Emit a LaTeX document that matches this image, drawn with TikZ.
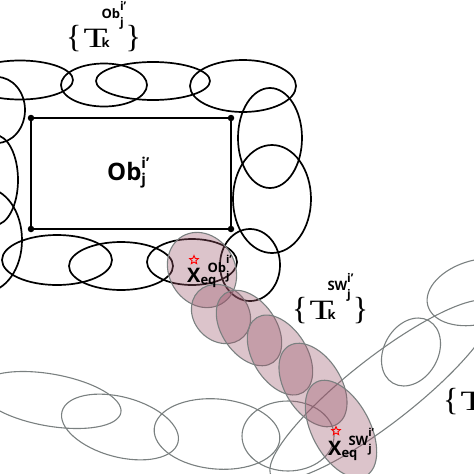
\documentclass[tikz,border=0pt]{standalone}
\usepackage{fontspec}
\setmainfont{Liberation Serif}
\setsansfont{Open Sans}
\usepackage{graphicx}
\usetikzlibrary{shapes.geometric}
\definecolor{cellpink}{RGB}{155,86,106}
\definecolor{cellgrey}{RGB}{122,128,128}
% bold sans script of a given size
\newcommand{\sfb}[2]{{\fontsize{#1}{#1}\selectfont\sffamily\bfseries #2}}
% set of cells {T_k^{#1_j^{i'}}}
\newcommand{\tsetlab}[1]{{\fontsize{32}{32}\selectfont\{}\hspace{2pt}%
  \scalebox{1.4}[1]{\fontsize{28}{28}\selectfont T}\hspace{-6pt}%
  \rlap{\sfb{13}{k}}\raisebox{29pt}{\sfb{13}{#1}}%
  \rlap{\raisebox{37pt}{\sfb{12}{i’}}}\raisebox{21pt}{\sfb{12}{j}}\hspace{2pt}%
  {\fontsize{32}{32}\selectfont\}}}
% equilibrium point X_eq^{#1_j^{i'}}
\newcommand{\xeqlab}[1]{\sfb{20}{X}\rlap{\raisebox{-2pt}{\sfb{13}{eq}}}\hspace{7pt}%
  \raisebox{10pt}{\sfb{13}{#1}}\rlap{\raisebox{19pt}{\sfb{11}{i’}}}\raisebox{3pt}{\sfb{11}{j}}}
\begin{document}
\begin{tikzpicture}[x=1pt,y=-1pt,
    blackell/.style={line width=1.7pt},
    greyell/.style={draw=cellgrey,line width=1.1pt},
    pinkell/.style={draw=cellgrey,line width=1.1pt,fill=cellpink,fill opacity=.35},
    corner/.style={circle,fill,inner sep=0pt,minimum size=6.5pt},
    eqstar/.style={star,star points=5,star point ratio=2.2,draw=red,line width=.9pt,inner sep=0pt,minimum size=9pt},
    lab/.style={anchor=base west,inner sep=0pt}]
  % background
  \useasboundingbox (0,0) rectangle (474,474);
  \clip (0,0) rectangle (474,474);
  % cells round the obstacle
  \foreach \cx/\cy/\rx/\ry in {20/80/53/19.5,104/85/43/21.5,153/81/57/19,243/86/53/26,
      -3/110/28/33,-5/180/23/45,-15/240/37/52,
      57/260/55/25,121/266/52/24,192/262/45/23,
      270/138/32/50,272/199/39/54,250/265/30/36}
    \draw[blackell] (\cx,\cy) ellipse [x radius=\rx, y radius=\ry];
  % obstacle
  \coordinate (nw) at (31,118);
  \coordinate (ne) at (231,118);
  \coordinate (se) at (231,229);
  \coordinate (sw) at (31,229);
  \draw[line width=2.2pt] (nw) -- (ne) -- (se) -- (sw) -- cycle;
  \foreach \c in {nw,ne,se,sw} \node[corner] (dot-\c) at (\c) {};
  % cells of the next obstacle
  \foreach \cx/\cy/\a/\b/\r in {50/400/72/26/-10,120/427/60/30/-15,217/434/63/35/-5,
      288/436/46/35/0,382/390/140/33/38,411/352/36/27/60,478/292/52/32/15}
    \draw[greyell,shift={(\cx,\cy)},rotate=\r] (0,0) ellipse [x radius=\a, y radius=\b];
  % switching cells
  \foreach \cx/\cy/\a/\b/\r in {202/270/39/33/-60,221/314/32/27/-45,249/328/42/27/-55,
      280/355/44/27/-58,313/385/46/28/-58,341/429/53/29/-62}
    \draw[pinkell,shift={(\cx,\cy)},rotate=\r] (0,0) ellipse [x radius=\a, y radius=\b];
  % labels
  \node[lab] (tob) at (66,47) {\tsetlab{Ob}};
  \node[lab] (tsw) at (292,319) {\tsetlab{SW}};
  \node[lab] (tnext) at (443,410) {{\fontsize{32}{32}\selectfont\{}\hspace{2pt}\scalebox{1.4}[1]{\fontsize{28}{28}\selectfont T}};
  \node[lab] (oblab) at (107,180) {\sfb{24}{Ob}\rlap{\raisebox{12pt}{\sfb{15}{i’}}}\raisebox{-4pt}{\sfb{15}{j}}};
  \node[eqstar] (sob) at (194,260) {};
  \node[eqstar] (ssw) at (336,431) {};
  \node[lab] (xob) at (187,282) {\xeqlab{Ob}};
  \node[lab] (xsw) at (328,455) {\xeqlab{SW}};
\end{tikzpicture}
\end{document}
